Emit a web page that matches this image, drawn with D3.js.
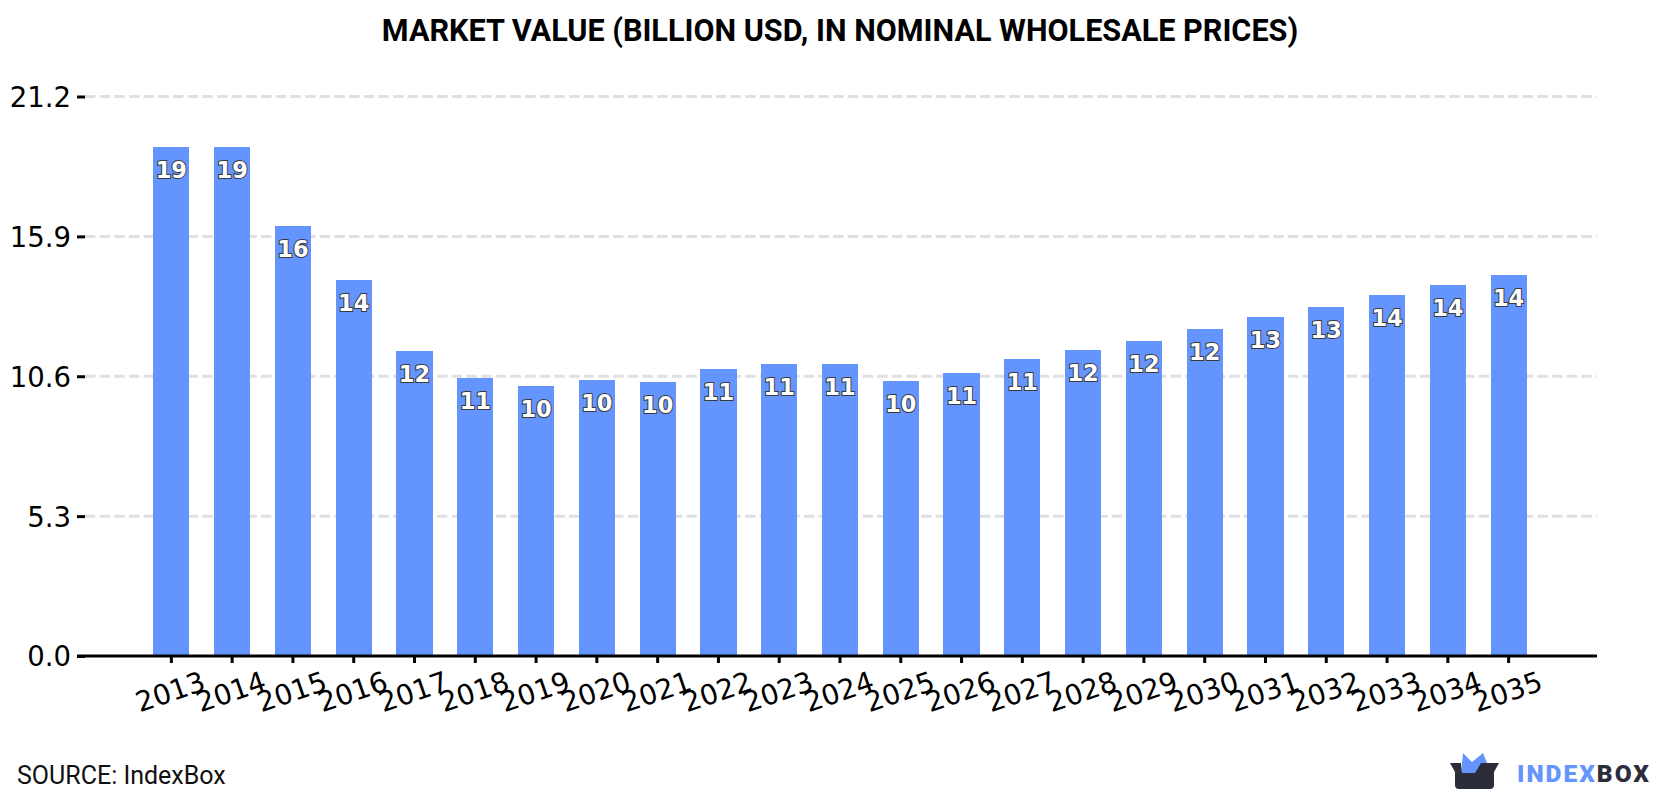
<!DOCTYPE html>
<html>
<head>
<meta charset="utf-8">
<script src="https://cdn.jsdelivr.net/npm/d3@7/dist/d3.min.js"></script>
<style>
  html, body { margin: 0; padding: 0; background: #fff; }
  svg { display: block; }
</style>
</head>
<body>
<svg id="chart" width="1680" height="800"></svg>
<script>
// Market value series, billion USD
const years = ["2013","2014","2015","2016","2017","2018","2019","2020","2021","2022","2023","2024","2025","2026","2027","2028","2029","2030","2031","2032","2033","2034","2035"];
const marketValue = [19.29,19.29,16.29,14.25,11.56,10.53,10.23,10.46,10.38,10.88,11.06,11.06,10.42,10.72,11.25,11.6,11.94,12.39,12.85,13.22,13.68,14.06,14.44];
const yTicks = [0, 5.3, 10.6, 15.9, 21.2];

const titleText = "MARKET VALUE (BILLION USD, IN NOMINAL WHOLESALE PRICES)";
const sourceText = "SOURCE: IndexBox";

const svg = d3.select("#chart");
const plotLeft = 85, plotRight = 1597, plotTop = 96.5, plotBottom = 656;

const x = d3.scaleBand().domain(years).range([plotLeft - 1, plotRight - 1]).paddingInner(0.405).paddingOuter(1.14);
const y = d3.scaleLinear().domain([0, 21.2]).range([plotBottom, plotTop]);

svg.append("text")
  .attr("x", 840).attr("y", 41)
  .attr("text-anchor", "middle")
  .style("font", "700 30.6px Roboto")
  .attr("fill", "#000")
  .text(titleText);

// Dashed horizontal grid
svg.append("g").selectAll("line")
  .data(yTicks.filter(d => d > 0))
  .join("line")
  .attr("x1", plotLeft).attr("x2", plotRight)
  .attr("y1", d => y(d)).attr("y2", d => y(d))
  .attr("stroke", "#e0e0e0")
  .attr("stroke-width", 3)
  .attr("stroke-dasharray", "10.4 4.27");

// Bars
svg.append("g").selectAll("rect")
  .data(years)
  .join("rect")
  .attr("x", d => x(d))
  .attr("width", x.bandwidth())
  .attr("y", (d, i) => y(marketValue[i]))
  .attr("height", (d, i) => plotBottom - y(marketValue[i]))
  .attr("fill", "#6495ff")
  .attr("shape-rendering", "crispEdges");

// Value labels inside the bars
svg.append("g").selectAll("text")
  .data(years)
  .join("text")
  .attr("x", d => x(d) + x.bandwidth() / 2)
  .attr("y", (d, i) => y(marketValue[i]) + 31)
  .attr("text-anchor", "middle")
  .style("font", "700 22.5px 'DejaVu Sans'")
  .attr("fill", "#fff")
  .attr("stroke", "#3a3a3a")
  .attr("stroke-width", 2)
  .attr("paint-order", "stroke")
  .text((d, i) => d3.format(".0f")(marketValue[i]));

// Left axis
const yAxis = d3.axisLeft(y).tickValues(yTicks).tickFormat(d3.format(".1f")).tickSize(8).tickPadding(6);
const gy = svg.append("g").attr("transform", `translate(${plotLeft},0)`).call(yAxis);
gy.select(".domain").remove();
gy.selectAll(".tick line").attr("stroke", "#000").attr("stroke-width", 3);
gy.selectAll(".tick text").attr("fill", "#000").attr("dy", "0.36em").style("font", "27.5px 'DejaVu Sans'");

// Bottom axis with slanted year labels
const xAxis = d3.axisBottom(x).tickSize(7).tickSizeOuter(0);
const gx = svg.append("g").attr("transform", `translate(0,${plotBottom})`).call(xAxis);
gx.select(".domain").attr("d", `M77,0H${plotRight}`).attr("stroke", "#000").attr("stroke-width", 3);
gx.selectAll(".tick line").attr("stroke", "#000").attr("stroke-width", 3);
gx.selectAll(".tick text")
  .attr("fill", "#000")
  .style("font", "28px 'DejaVu Sans'")
  .attr("text-anchor", "middle")
  .attr("dy", null)
  .attr("y", 0)
  .attr("dominant-baseline", "central")
  .attr("transform", "translate(-1,36) rotate(-19)");

svg.append("text")
  .attr("x", 17).attr("y", 784)
  .style("font", "400 25px Roboto")
  .attr("fill", "#111")
  .text(sourceText);

// Brand mark: open box with a blue crown, then the word mark
const logo = svg.append("g");
logo.append("path")
  .attr("d", "M1462,773 L1462,763 L1463,753 L1472,762 L1483,753 L1487,763 L1487,768 L1475,773 Z")
  .attr("fill", "#6495ff");
logo.append("path")
  .attr("d", "M1450,763 L1461,763 L1462,773 L1475,773 L1481,763 L1499,763 L1494,772 L1494,785 Q1494,789 1490,789 L1459,789 Q1455,789 1455,785 L1455,772 Z")
  .attr("fill", "#2b2d3a");
logo.append("text")
  .attr("x", 1517).attr("y", 782)
  .style("font", "900 24.5px Roboto")
  .style("letter-spacing", "2px")
  .attr("fill", "#6495ff")
  .text("INDEX")
  .append("tspan")
  .attr("fill", "#2b2d3a")
  .text("BOX");
</script>
</body>
</html>
